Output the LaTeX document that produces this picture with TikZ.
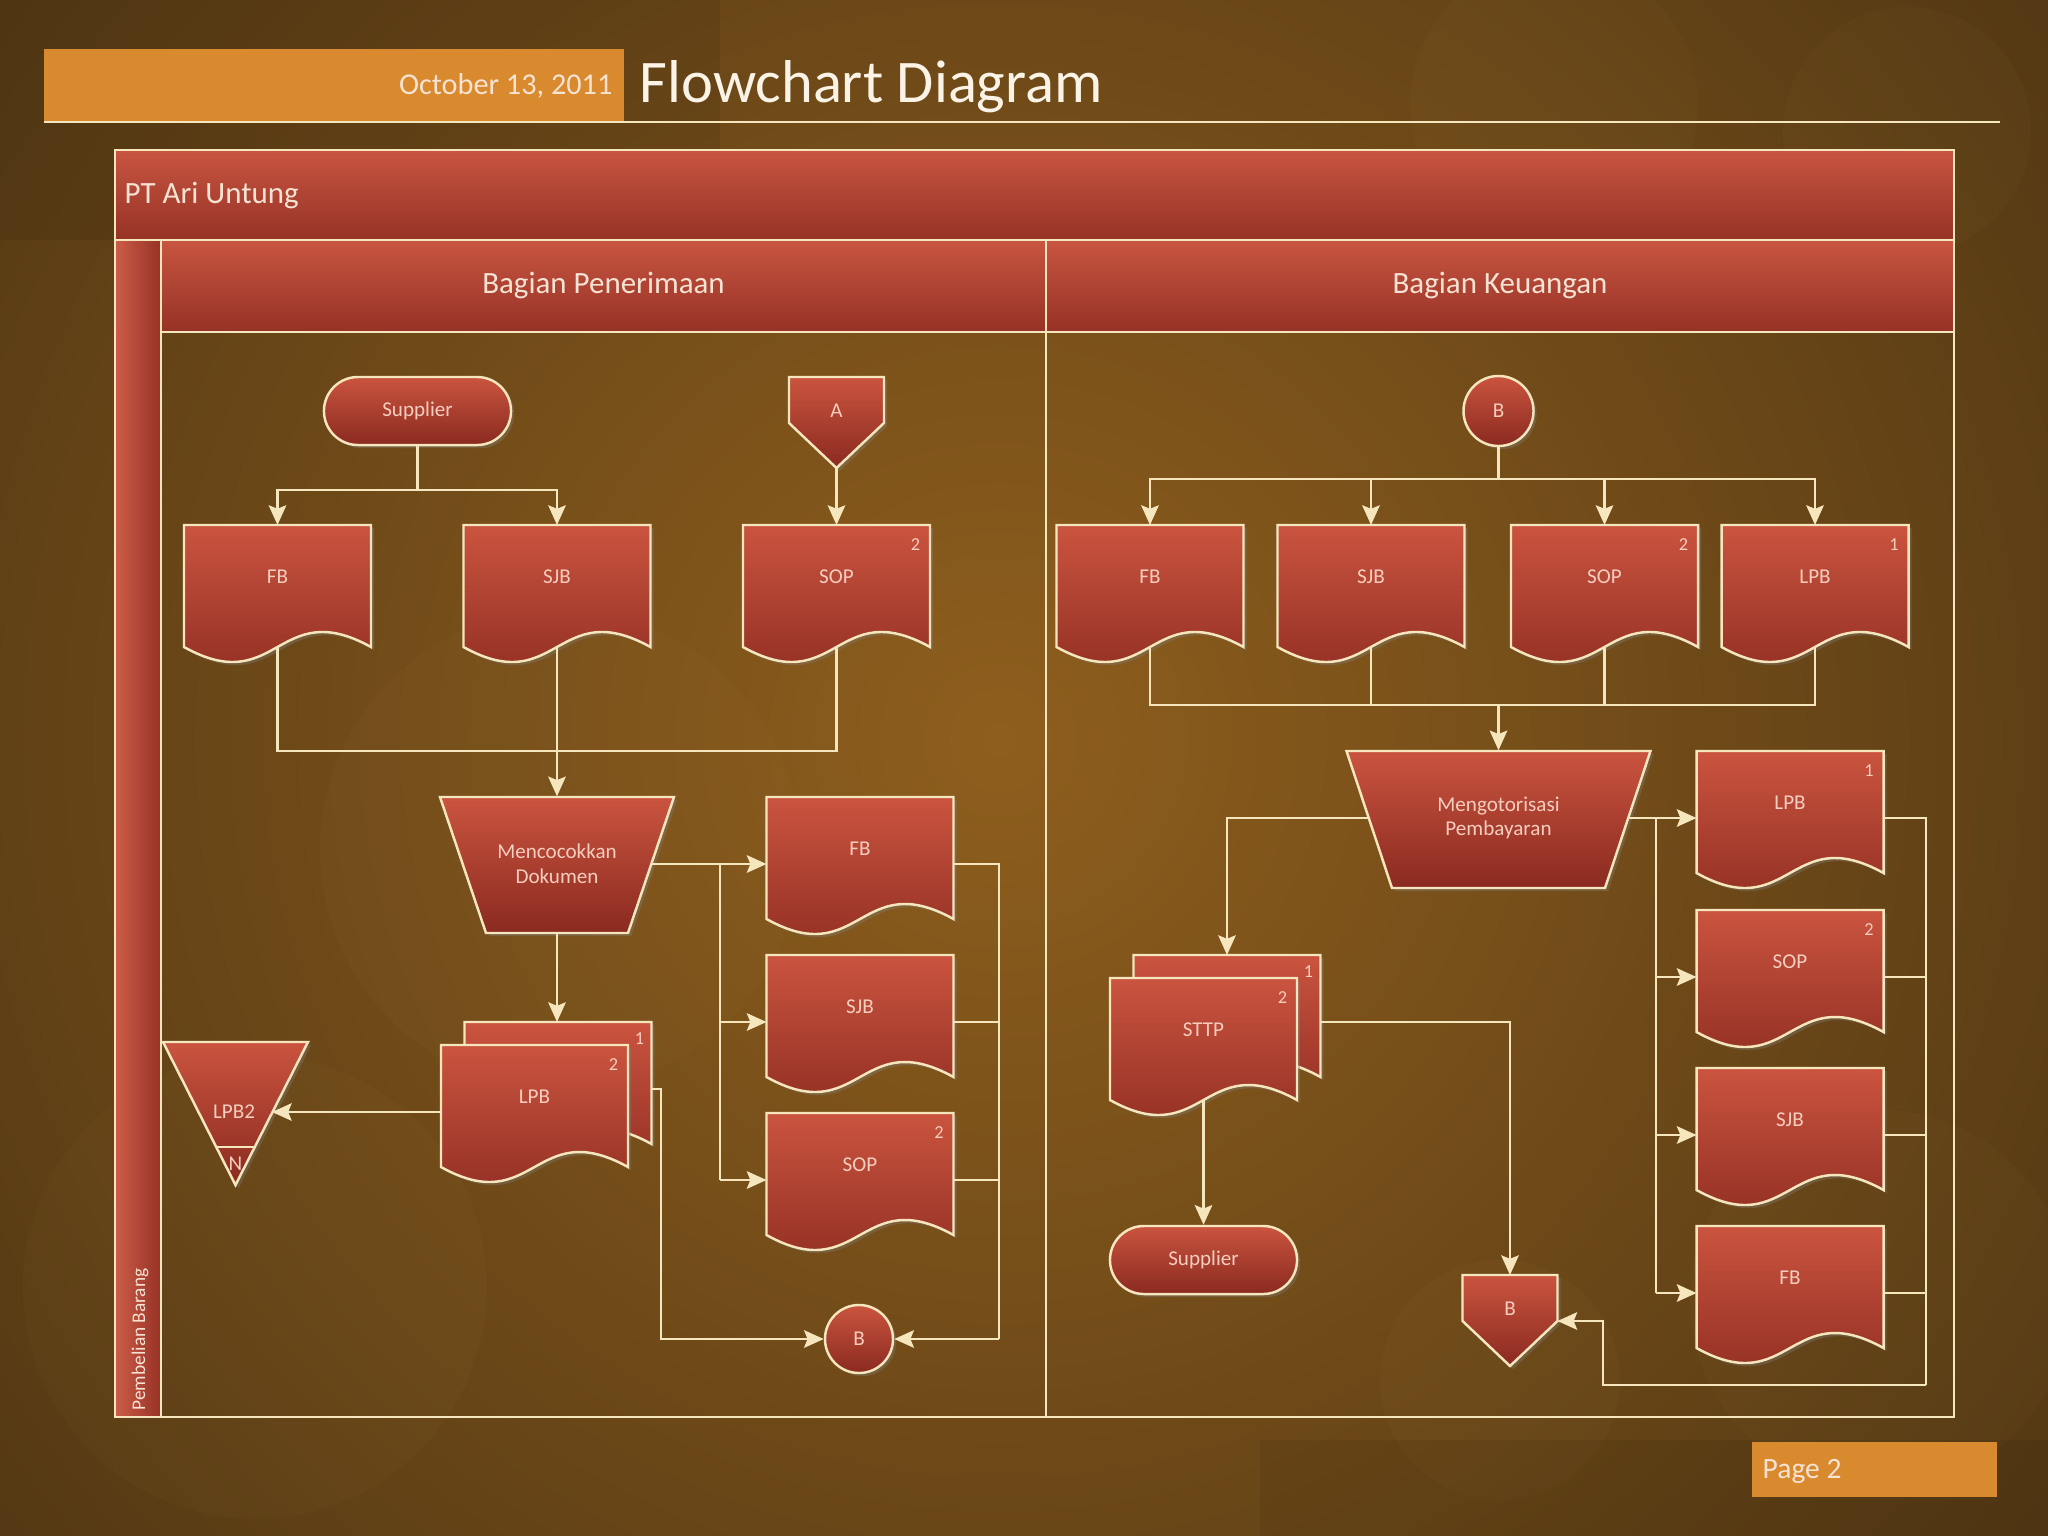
\documentclass[tikz,border=0pt]{standalone}
\usepackage{fontspec}
\setmainfont{Carlito}
\usetikzlibrary{arrows.meta,shadows}

\definecolor{cream}{HTML}{F5E6BE}
\definecolor{redtop}{HTML}{CA543F}
\definecolor{redbot}{HTML}{8A2A20}
\definecolor{hdrtop}{HTML}{C85541}
\definecolor{hdrbot}{HTML}{963226}
\definecolor{orangebar}{HTML}{D98A2E}
\definecolor{shapetxt}{HTML}{F7CDBE}
\definecolor{hdrtxt}{HTML}{F6E3D3}
\definecolor{titletxt}{HTML}{FAF3E6}
\definecolor{bgin}{HTML}{8E5E1D}
\definecolor{bgout}{HTML}{3A2810}
\definecolor{decorcol}{HTML}{C8A060}

\tikzset{
  shp/.style={draw=cream, line width=0.7pt, top color=redtop, bottom color=redbot,
    drop shadow={opacity=0.35, shadow xshift=0.9pt, shadow yshift=-0.9pt}},
  conn/.style={draw=cream, line width=0.6pt},
  arr/.style={conn, -{Stealth[length=5.6pt,width=5pt,inset=1pt]}},
  stxt/.style={text=shapetxt, font=\fontsize{6}{7}\selectfont, inner sep=0pt, align=center},
  ntxt/.style={text=shapetxt, font=\fontsize{5.2}{6}\selectfont, inner sep=0pt},
  abox/.style={rectangle, inner sep=0pt, outer sep=0pt, minimum width=1.87cm, minimum height=1.22cm},
  hdr/.style={text=hdrtxt, font=\fontsize{8.8}{10}\selectfont, inner sep=0pt},
  lanebar/.style={draw=cream, line width=0.6pt, top color=hdrtop, bottom color=hdrbot},
  lanebox/.style={draw=cream, line width=0.6pt},
  decor/.style={fill=decorcol, fill opacity=0.035}
}

% document shape: name, centre x, top y, label, number
\newcommand\docshape[5]{%
  \path[shp] ({#2-93.5},#3) -- ({#2+93.5},#3) -- ({#2+93.5},{#3+122})
     .. controls ({#2},{#3+70}) and ({#2},{#3+174}) .. ({#2-93.5},{#3+122}) -- cycle;
  \node[abox] (#1) at ({#2},{#3+61}) {};
  \coordinate (#1-w) at ({#2-93.5},{#3+67});
  \coordinate (#1-e) at ({#2+93.5},{#3+67});
  \node[stxt] (#1-t) at ({#2},{#3+52}) {#4};
  \if\relax\detokenize{#5}\relax\else
    \node[ntxt] (#1-n) at ({#2+79},{#3+20}) {#5};
  \fi
}
% multi document: name, front centre x, front top y, label, front number, back number
\newcommand\multidoc[6]{%
  \path[shp] ({#2-70},{#3-23}) -- ({#2+117},{#3-23}) -- ({#2+117},{#3+99})
     .. controls ({#2+23.5},{#3+47}) and ({#2+23.5},{#3+151}) .. ({#2-70},{#3+99}) -- cycle;
  \node[abox] (#1b) at ({#2+23.5},{#3+38}) {};
  \coordinate (#1b-e) at ({#2+117},{#3+44});
  \node[ntxt] (#1b-n) at ({#2+105},{#3-6}) {#6};
  \docshape{#1}{#2}{#3}{#4}{#5}%
}
% off-page connector: name, centre x, top y, label
\newcommand\offpage[4]{%
  \path[shp] ({#2-47.5},#3) -- ({#2+47.5},#3) -- ({#2+47.5},{#3+46}) -- (#2,{#3+91})
     -- ({#2-47.5},{#3+46}) -- cycle;
  \node[stxt] (#1) at (#2,{#3+34}) {#4};
  \coordinate (#1-top) at (#2,#3);
  \coordinate (#1-tip) at (#2,{#3+91});
  \coordinate (#1-rc) at ({#2+47.5},{#3+46});
}

\begin{document}
\begin{tikzpicture}[x=0.01cm,y=-0.01cm]
\useasboundingbox (0,0) rectangle (2048,1536);
% background
\begin{scope}
  \clip (0,0) rectangle (2048,1536);
  \fill[bgout] (0,0) rectangle (2048,1536);
  \shade[inner color=bgin, outer color=bgout] (1000,740) circle (1850);
  \fill[decor] (255,1287) circle (232);
  \fill[decor] (1554,104) circle (144);
  \fill[decor] (1907,131) circle (124);
  \fill[decor] (560,850) circle (240);
  \fill[decor] (1880,1300) circle (190);
  \fill[decor] (1500,1380) circle (120);
  \fill[black, fill opacity=0.08] (0,0) rectangle (720,240);
  \fill[black, fill opacity=0.06] (1260,1440) rectangle (2048,1536);
\end{scope}

% header
\fill[orangebar] (44,49) rectangle (624,121);
\draw[cream, line width=0.5pt] (44,122) -- (2000,122);
\node[anchor=base east, inner sep=0pt, text=hdrtxt, font=\fontsize{8.6}{10}\selectfont] (date) at (613,94) {October 13, 2011};
\node[anchor=base west, inner sep=0pt, text=titletxt, font=\fontsize{17.2}{20}\selectfont] (title) at (639,102) {Flowchart Diagram};
\fill[orangebar] (1752,1442) rectangle (1997,1497);
\node[anchor=base west, inner sep=0pt, text=hdrtxt, font=\fontsize{8.4}{10}\selectfont] (page) at (1762,1478) {Page 2};

% pool and lanes
\path[lanebar] (115,150) rectangle (1954,240);
\path[lanebar] (161,240) rectangle (1046,332);
\path[lanebar] (1046,240) rectangle (1954,332);
\path[draw=cream, line width=0.6pt, left color=redtop!95!white, right color=hdrbot] (115,240) rectangle (161,1417);
\draw[lanebox] (161,332) rectangle (1046,1417);
\draw[lanebox] (1046,332) rectangle (1954,1417);
\draw[lanebox] (115,150) rectangle (1954,1417);
\node[hdr, anchor=base west] (pool) at (124,203) {PT Ari Untung};
\node[hdr, anchor=base] (laneA) at (603.5,293) {Bagian Penerimaan};
\node[hdr, anchor=base] (laneB) at (1500,293) {Bagian Keuangan};
\node[text=hdrtxt, font=\fontsize{5.5}{6}\selectfont, inner sep=0pt, rotate=90, anchor=west] (lanev) at (140,1411) {Pembelian Barang};

% ---------- left lane shapes ----------
\node[shp, stxt, rectangle, rounded corners=0.34cm, minimum width=1.87cm, minimum height=0.68cm] (sup1) at (417.5,411) {Supplier};
\offpage{offa}{836.5}{377}{A}
\docshape{fb1}{277.5}{525}{FB}{}
\docshape{sjb1}{557}{525}{SJB}{}
\docshape{sop1}{836.5}{525}{SOP}{2}
\path[shp] (440,797) -- (674,797) -- (628,933) -- (486,933) -- cycle;
\node[stxt, rectangle, minimum width=1.88cm, minimum height=1.34cm] (m1) at (557,864) {Mencocokkan\\Dokumen};
\docshape{fb2}{860}{797}{FB}{}
\docshape{sjb2}{860}{955}{SJB}{}
\docshape{sop2}{860}{1113}{SOP}{2}
\multidoc{lpb}{534.5}{1045}{LPB}{2}{1}
\path[shp] (163,1042) -- (308,1042) -- (235.5,1185) -- cycle;
\draw[cream, line width=0.6pt] (216.2,1147) -- (254.8,1147);
\node[stxt] (lpb2) at (234,1112) {LPB2};
\node[stxt] (lpb2n) at (235.5,1164) {N};
\coordinate (lpb2-in) at (272,1112);
\node[shp, stxt, circle, minimum size=0.68cm] (bL) at (859,1339) {B};

% ---------- right lane shapes ----------
\node[shp, stxt, circle, minimum size=0.70cm] (bR) at (1498.5,411) {B};
\docshape{fb3}{1150}{525}{FB}{}
\docshape{sjb3}{1371}{525}{SJB}{}
\docshape{sop3}{1604.5}{525}{SOP}{2}
\docshape{lpb3}{1815}{525}{LPB}{1}
\path[shp] (1346.5,751) -- (1650.5,751) -- (1605,888) -- (1392,888) -- cycle;
\node[stxt, rectangle, minimum width=2.585cm, minimum height=1.34cm] (m2) at (1498.5,818) {Mengotorisasi\\Pembayaran};
\docshape{lpb4}{1790}{751}{LPB}{1}
\docshape{sop4}{1790}{910}{SOP}{2}
\docshape{sjb4}{1790}{1068}{SJB}{}
\docshape{fb4}{1790}{1226}{FB}{}
\multidoc{sttp}{1203.5}{978}{STTP}{2}{1}
\node[shp, stxt, rectangle, rounded corners=0.34cm, minimum width=1.87cm, minimum height=0.68cm] (sup2) at (1203.5,1260) {Supplier};
\offpage{offb}{1510}{1275}{B}

% ---------- left lane connectors ----------
\coordinate (j1) at (417.5,490);
\draw[conn] (sup1.south) -- (j1);
\draw[arr] (j1) -| (fb1.north);
\draw[arr] (j1) -| (sjb1.north);
\draw[arr] (offa-tip) -- (sop1.north);
\coordinate (j2) at (557,751);
\draw[conn] (fb1.south) |- (j2) -| (sop1.south);
\draw[arr] (sjb1.south) -- (m1.north);
\draw[arr] (m1.east) -- (fb2-w);
\coordinate (j3) at (720,864);
\coordinate (j4) at (720,1180);
\draw[conn] (j3) -- (j4);
\draw[arr] (j3 |- sjb2-w) -- (sjb2-w);
\draw[arr] (j4) -- (sop2-w);
\coordinate (c1) at (999,1339);
\draw[conn] (fb2-e) -| (c1);
\draw[conn] (sjb2-e) -- (sjb2-e -| c1);
\draw[conn] (sop2-e) -- (sop2-e -| c1);
\draw[arr] (c1) -- (bL.east);
\draw[arr] (m1.south) -- (m1.south |- lpbb.north);
\draw[arr] (lpb-w) -- (lpb2-in);
\coordinate (c2) at (661,1339);
\draw[arr] (lpbb-e) -| (c2) -- (bL.west);

% ---------- right lane connectors ----------
\coordinate (j5) at (1498.5,479);
\draw[conn] (bR.south) -- (j5);
\draw[arr] (j5) -| (fb3.north);
\draw[arr] (j5) -| (sjb3.north);
\draw[arr] (j5) -| (sop3.north);
\draw[arr] (j5) -| (lpb3.north);
\coordinate (j6) at (1498.5,705);
\draw[conn] (fb3.south) |- (j6);
\draw[conn] (lpb3.south) |- (j6);
\draw[conn] (sjb3.south) -- (sjb3.south |- j6);
\draw[conn] (sop3.south) -- (sop3.south |- j6);
\draw[arr] (j6) -- (m2.north);
\draw[arr] (m2.west) -| (sttpb.north);
\draw[arr] (m2.east) -- (lpb4-w);
\coordinate (j7) at (1656,818);
\coordinate (j8) at (1656,1293);
\draw[conn] (j7) -- (j8);
\draw[arr] (j7 |- sop4-w) -- (sop4-w);
\draw[arr] (j7 |- sjb4-w) -- (sjb4-w);
\draw[arr] (j8) -- (fb4-w);
\coordinate (k1) at (1926,1385);
\coordinate (k2) at (1603,1385);
\draw[conn] (lpb4-e) -| (k1);
\draw[conn] (sop4-e) -- (sop4-e -| k1);
\draw[conn] (sjb4-e) -- (sjb4-e -| k1);
\draw[conn] (fb4-e) -- (fb4-e -| k1);
\draw[arr] (k1) -- (k2) |- (offb-rc);
\draw[arr] (sttpb-e) -| (offb-top);
\draw[arr] (sttp.south) -- (sup2.north);
\end{tikzpicture}
\end{document}
